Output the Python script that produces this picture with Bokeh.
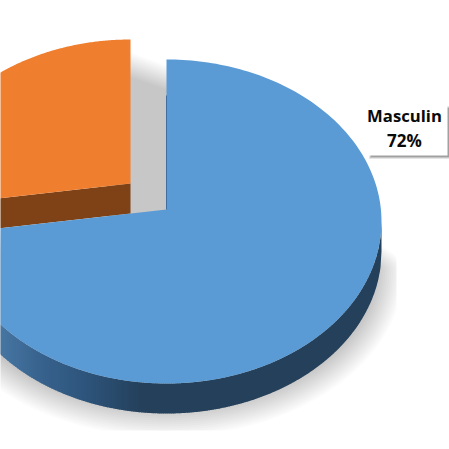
import numpy as np
from bokeh.plotting import figure
from bokeh.models import Range1d
from bokeh.embed import file_html
from bokeh.resources import INLINE
from bokeh.core.properties import value

categories = ["Masculin", "Féminin"]
shares = [72, 28]
top_colors = ["#5B9BD5", "#EF7F2F"]
label_category = categories[0]
label_text = f"{shares[0]}%"

S = 449
p = figure(width=S, height=S, output_backend="svg", toolbar_location=None,
           x_range=Range1d(0, S), y_range=Range1d(S, 0), min_border=0)
p.axis.visible = False
p.grid.visible = False
p.outline_line_color = None
p.background_fill_color = "white"

# projection of the pie
rx, ry = 215.0, 162.0
depth = 30.0
flat = 0.78
boundary = 2 * np.pi * shares[0] / sum(shares)

def ray_hit(ax, ay, cx, cy, th):
    dx, dy = np.sin(th) * rx, -np.cos(th) * ry * flat
    a = (dx / rx) ** 2 + (dy / ry) ** 2
    b = 2 * ((ax - cx) * dx / rx**2 + (ay - cy) * dy / ry**2)
    c = ((ax - cx) / rx) ** 2 + ((ay - cy) / ry) ** 2 - 1
    t = (-b + np.sqrt(b * b - 4 * a * c)) / (2 * a)
    return ax + t * dx, ay + t * dy

def end_angle(ax, ay, cx, cy):
    hx, hy = ray_hit(ax, ay, cx, cy, boundary)
    return np.arctan2((hx - cx) / rx, -(hy - cy) / ry) % (2 * np.pi)

def arc(cx, cy, a0, a1, n=240):
    t = np.linspace(a0, a1, n)
    return cx + rx * np.sin(t), cy - ry * np.cos(t)

# soft shadows
def soft(shape, steps=14, spread=13):
    for s in np.linspace(spread, -spread, steps):
        x, y = shape(s)
        p.patch(np.minimum(x, 396), np.minimum(y, 430), fill_color="black",
                fill_alpha=0.0158, line_color=None)

def ell_shadow(s):
    t = np.linspace(0, 2 * np.pi, 240)
    sn = np.sin(t)
    vert = np.where(sn >= 0, 153 + s, 45 + s)
    return 165 + (225 + s) * np.cos(t), 270 + vert * sn

soft(ell_shadow)

def orange_shadow(s):
    xl = np.array([110.0, 190.0 + s])
    yl = 66 + (xl - 135) * 0.35 - s
    return np.r_[xl, 190.0 + s, 110.0], np.r_[yl, 232.0, 232.0]

soft(orange_shadow, steps=14, spread=12)

# label box shadow
for grow, alpha in [(2.5, 0.10), (1.5, 0.14), (0.5, 0.18)]:
    p.quad(left=371 - grow, right=449, top=108 - grow, bottom=156 + grow,
           fill_color="black", fill_alpha=alpha, line_color=None)

# orange slice (exploded)
ox, oy, ocy = 130.0, 183.0, 201.0
oa = end_angle(ox, oy, ox, ocy)
xs, ys = arc(ox, ocy, oa, 2 * np.pi)
ray_x = np.array([xs[0], ox])
ray_y = np.array([ys[0], oy])
p.patch(np.r_[ray_x, ray_x[::-1]], np.r_[ray_y, ray_y[::-1] + depth],
        fill_color="#7F4216", line_color=None)
p.patch(np.r_[ox, xs], np.r_[oy, ys], fill_color=top_colors[1], line_color=None)

# blue slice
bx, by, bcy = 166.0, 209.0, 221.0
ba = end_angle(bx, by, bx, bcy)
stops = np.array([-50, 0, 40, 85, 140, 400.0])
chans = np.array([[0x4E, 0x82, 0xB0], [0x47, 0x76, 0xA2], [0x38, 0x63, 0x8E],
                  [0x2E, 0x55, 0x7C], [0x25, 0x41, 0x5C], [0x24, 0x40, 0x5A]], float)
edges = np.arange(bx - rx, bx + rx + 0.001, 2.0)
sx, sy = [], []
cols = []
for x0, x1 in zip(edges[:-1], edges[1:]):
    g = np.linspace(x0, min(x1 + 0.6, bx + rx), 3)
    top = bcy + ry * np.sqrt(np.clip(1 - ((g - bx) / rx) ** 2, 0, 1))
    sx.append(np.r_[g, g[::-1]].tolist())
    sy.append(np.r_[top, top[::-1] + depth].tolist())
    c = [int(np.interp((x0 + x1) / 2, stops, chans[:, k])) for k in range(3)]
    cols.append("#%02x%02x%02x" % tuple(c))
p.patches(sx, sy, fill_color=cols, line_color=None)

xs, ys = arc(bx, bcy, 0, ba)
p.patch(np.r_[bx, xs], np.r_[by, ys], fill_color=top_colors[0], line_color=None)
p.line([bx, bx], [by, 95], line_color="#3F6F9F", line_width=1)

# data label
p.quad(left=363, right=447, top=102, bottom=155, fill_color="white", line_color=None)
p.text([404], [115], text=[label_category], text_font=value("Open Sans"), text_font_style="bold",
       text_font_size="16.7px", text_align="center", text_baseline="alphabetic", text_color="#0a0a0a")
p.text([404], [140], text=[label_text], text_font=value("Open Sans"), text_font_style="bold",
       text_font_size="17px", text_align="center", text_baseline="alphabetic", text_color="#0a0a0a")

open("out.html", "w").write(file_html(p, INLINE))
